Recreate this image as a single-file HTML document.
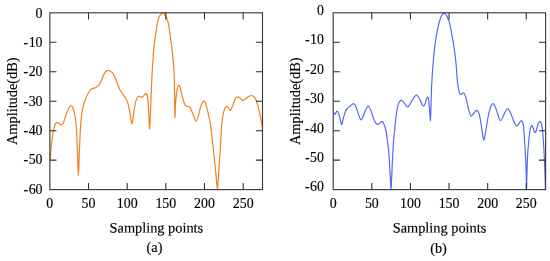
<!DOCTYPE html>
<html><head><meta charset="utf-8"><title>Amplitude plots</title>
<style>
html,body{margin:0;padding:0;background:#fff;}
body{width:550px;height:261px;overflow:hidden;}
svg{display:block;}
text{font-family:"Liberation Serif",serif;font-size:14.2px;fill:#000;stroke:#000;stroke-width:0.15px;}
</style></head>
<body>
<svg width="550" height="261" viewBox="0 0 550 261">
<rect width="550" height="261" fill="#fff"/>
<defs><clipPath id="cl"><rect x="49.85" y="11.80" width="212.65" height="178.30"/></clipPath></defs>
<path d="M50.30,159.40 C50.45,157.33 50.88,150.48 51.20,147.00 C51.52,143.52 51.82,141.28 52.20,138.50 C52.58,135.72 53.05,132.58 53.50,130.30 C53.95,128.02 54.43,126.07 54.90,124.80 C55.37,123.53 55.78,123.02 56.30,122.70 C56.82,122.38 57.38,122.65 58.00,122.90 C58.62,123.15 59.35,123.90 60.00,124.20 C60.65,124.50 61.32,124.97 61.90,124.70 C62.48,124.43 62.82,124.22 63.50,122.60 C64.18,120.98 65.08,117.43 66.00,115.00 C66.92,112.57 68.13,109.57 69.00,108.00 C69.87,106.43 70.53,105.60 71.20,105.60 C71.87,105.60 72.40,106.43 73.00,108.00 C73.60,109.57 74.27,112.17 74.80,115.00 C75.33,117.83 75.77,119.17 76.20,125.00 C76.63,130.83 77.03,141.48 77.40,150.00 C77.77,158.52 78.07,176.10 78.40,176.10 C78.73,176.10 79.02,158.52 79.40,150.00 C79.78,141.48 80.20,131.68 80.70,125.00 C81.20,118.32 81.50,114.50 82.40,109.90 C83.30,105.30 84.65,100.82 86.10,97.40 C87.55,93.98 89.43,91.07 91.10,89.40 C92.77,87.73 94.63,88.35 96.10,87.40 C97.57,86.45 98.65,85.77 99.90,83.70 C101.15,81.63 102.58,77.03 103.60,75.00 C104.62,72.97 105.17,72.25 106.00,71.50 C106.83,70.75 107.55,70.30 108.60,70.50 C109.65,70.70 111.23,71.53 112.30,72.70 C113.37,73.87 113.72,74.63 115.00,77.50 C116.28,80.37 118.33,86.58 120.00,89.90 C121.67,93.22 123.67,95.12 125.00,97.40 C126.33,99.68 127.17,100.90 128.00,103.60 C128.83,106.30 129.33,110.23 130.00,113.60 C130.67,116.97 131.38,124.00 132.00,123.80 C132.62,123.60 133.00,116.38 133.70,112.40 C134.40,108.42 135.37,102.60 136.20,99.90 C137.03,97.20 137.75,96.62 138.70,96.20 C139.65,95.78 140.95,97.62 141.90,97.40 C142.85,97.18 143.68,95.52 144.40,94.90 C145.12,94.28 145.62,92.87 146.20,93.70 C146.78,94.53 147.40,95.13 147.90,99.90 C148.40,104.67 148.92,117.45 149.20,122.30 C149.48,127.15 149.45,129.05 149.60,129.00 C149.75,128.95 149.88,126.83 150.10,122.00 C150.32,117.17 150.62,107.13 150.90,100.00 C151.18,92.87 151.50,85.20 151.80,79.20 C152.10,73.20 152.38,68.83 152.70,64.00 C153.02,59.17 153.32,54.37 153.70,50.20 C154.08,46.03 154.57,42.37 155.00,39.00 C155.43,35.63 155.98,32.30 156.30,30.00 C156.62,27.70 156.58,26.95 156.90,25.20 C157.22,23.45 157.75,21.03 158.20,19.50 C158.65,17.97 159.13,16.92 159.60,16.00 C160.07,15.08 160.49,14.47 161.00,14.00 C161.51,13.53 162.10,13.20 162.65,13.20 C163.20,13.20 163.79,13.53 164.30,14.00 C164.81,14.47 165.22,15.08 165.70,16.00 C166.18,16.92 166.68,17.97 167.20,19.50 C167.72,21.03 168.43,23.45 168.80,25.20 C169.17,26.95 169.08,27.70 169.40,30.00 C169.72,32.30 170.23,35.63 170.70,39.00 C171.17,42.37 171.73,46.03 172.20,50.20 C172.67,54.37 173.15,59.17 173.50,64.00 C173.85,68.83 174.10,73.20 174.30,79.20 C174.50,85.20 174.59,93.63 174.70,100.00 C174.81,106.37 174.82,116.57 174.95,117.40 C175.08,118.23 175.31,108.33 175.50,105.00 C175.69,101.67 175.80,100.15 176.10,97.40 C176.40,94.65 176.90,90.47 177.30,88.50 C177.70,86.53 178.05,85.85 178.50,85.60 C178.95,85.35 179.33,85.03 180.00,87.00 C180.67,88.97 181.67,94.42 182.50,97.40 C183.33,100.38 184.17,103.38 185.00,104.90 C185.83,106.42 186.67,106.08 187.50,106.50 C188.33,106.92 188.97,105.80 190.00,107.40 C191.03,109.00 192.67,113.82 193.70,116.10 C194.73,118.38 195.37,121.30 196.20,121.10 C197.03,120.90 197.87,117.60 198.70,114.90 C199.53,112.20 200.28,107.23 201.20,104.90 C202.12,102.57 203.40,100.88 204.20,100.90 C205.00,100.92 205.42,103.28 206.00,105.00 C206.58,106.72 207.17,109.03 207.70,111.20 C208.23,113.37 208.73,115.77 209.20,118.00 C209.67,120.23 210.10,122.10 210.50,124.60 C210.90,127.10 211.28,130.35 211.60,133.00 C211.92,135.65 212.05,137.25 212.40,140.50 C212.75,143.75 213.27,148.42 213.70,152.50 C214.13,156.58 214.58,160.92 215.00,165.00 C215.42,169.08 215.78,172.90 216.20,177.00 C216.62,181.10 217.13,189.60 217.50,189.60 C217.87,189.60 218.12,181.10 218.40,177.00 C218.68,172.90 218.92,169.08 219.20,165.00 C219.47,160.92 219.77,156.58 220.05,152.50 C220.33,148.42 220.66,144.83 220.90,140.50 C221.14,136.17 221.15,130.75 221.50,126.50 C221.85,122.25 222.43,118.03 223.00,115.00 C223.57,111.97 224.27,109.75 224.90,108.30 C225.53,106.85 226.20,106.38 226.80,106.30 C227.40,106.22 227.92,107.08 228.50,107.80 C229.08,108.52 229.73,110.65 230.30,110.60 C230.87,110.55 231.37,108.68 231.90,107.50 C232.43,106.32 232.98,104.82 233.50,103.50 C234.02,102.18 234.48,100.63 235.00,99.60 C235.52,98.57 236.10,97.75 236.60,97.30 C237.10,96.85 237.48,96.82 238.00,96.90 C238.52,96.98 239.12,97.37 239.70,97.80 C240.28,98.23 240.95,99.08 241.50,99.50 C242.05,99.92 242.42,100.33 243.00,100.30 C243.58,100.27 244.25,99.80 245.00,99.30 C245.75,98.80 246.75,97.85 247.50,97.30 C248.25,96.75 248.90,96.30 249.50,96.00 C250.10,95.70 250.52,95.50 251.10,95.50 C251.68,95.50 252.42,95.67 253.00,96.00 C253.58,96.33 254.12,96.93 254.60,97.50 C255.08,98.07 255.45,98.40 255.90,99.40 C256.35,100.40 256.83,101.92 257.30,103.50 C257.77,105.08 258.30,107.23 258.70,108.90 C259.10,110.57 259.37,111.90 259.70,113.50 C260.03,115.10 260.40,117.00 260.70,118.50 C261.00,120.00 261.18,120.92 261.50,122.50 C261.82,124.08 262.42,127.08 262.60,128.00" fill="none" stroke="#F0821E" stroke-width="1.2" stroke-linejoin="round" clip-path="url(#cl)"/>
<rect x="49.85" y="12.8" width="212.65" height="176.79999999999998" fill="none" stroke="#3c3c3c" stroke-width="1.15"/>
<path d="M88.51,12.8v6.6 M88.51,189.6v-6.6 M127.18,12.8v6.6 M127.18,189.6v-6.6 M165.84,12.8v6.6 M165.84,189.6v-6.6 M204.50,12.8v6.6 M204.50,189.6v-6.6 M243.17,12.8v6.6 M243.17,189.6v-6.6 M49.85,42.27h6.6 M262.5,42.27h-6.6 M49.85,71.73h6.6 M262.5,71.73h-6.6 M49.85,101.20h6.6 M262.5,101.20h-6.6 M49.85,130.67h6.6 M262.5,130.67h-6.6 M49.85,160.13h6.6 M262.5,160.13h-6.6" stroke="#2a2a2a" stroke-width="1.05" fill="none"/>
<text transform="translate(49.85,208) scale(0.98,1)" text-anchor="middle">0</text>
<text transform="translate(88.51,208) scale(0.98,1)" text-anchor="middle">50</text>
<text transform="translate(127.18,208) scale(0.98,1)" text-anchor="middle">100</text>
<text transform="translate(165.84,208) scale(0.98,1)" text-anchor="middle">150</text>
<text transform="translate(204.50,208) scale(0.98,1)" text-anchor="middle">200</text>
<text transform="translate(243.17,208) scale(0.98,1)" text-anchor="middle">250</text>
<text transform="translate(42.55,17.65) scale(0.98,1)" text-anchor="end">0</text>
<text transform="translate(42.55,46.62) scale(0.98,1)" text-anchor="end">-<tspan dx="0.5">10</tspan></text>
<text transform="translate(42.55,76.08) scale(0.98,1)" text-anchor="end">-<tspan dx="0.5">20</tspan></text>
<text transform="translate(42.55,105.55) scale(0.98,1)" text-anchor="end">-<tspan dx="0.5">30</tspan></text>
<text transform="translate(42.55,135.02) scale(0.98,1)" text-anchor="end">-<tspan dx="0.5">40</tspan></text>
<text transform="translate(42.55,164.48) scale(0.98,1)" text-anchor="end">-<tspan dx="0.5">50</tspan></text>
<text transform="translate(42.55,194.05) scale(0.98,1)" text-anchor="end">-<tspan dx="0.5">60</tspan></text>
<text transform="translate(17.2,101.20) rotate(-90)" text-anchor="middle" style="font-size:14.35px">Amplitude(dB)</text>
<text transform="translate(156.35,232.5) rotate(0.15)" text-anchor="middle" style="font-size:14.35px">Sampling points</text>
<text x="154.5" y="252.0" text-anchor="middle" style="font-size:14.35px">(a)</text>
<defs><clipPath id="cr"><rect x="333.20" y="11.80" width="212.40" height="178.30"/></clipPath></defs>
<path d="M333.70,112.40 C333.92,112.73 334.45,114.62 335.00,114.40 C335.55,114.18 336.38,111.23 337.00,111.10 C337.62,110.97 338.12,112.03 338.70,113.60 C339.28,115.17 339.97,118.70 340.50,120.50 C341.03,122.30 341.40,124.90 341.90,124.40 C342.40,123.90 342.78,119.92 343.50,117.50 C344.22,115.08 345.12,111.78 346.20,109.90 C347.28,108.02 348.75,107.23 350.00,106.20 C351.25,105.17 352.67,103.50 353.70,103.70 C354.73,103.90 355.37,105.53 356.20,107.40 C357.03,109.27 357.87,112.82 358.70,114.90 C359.53,116.98 360.37,119.90 361.20,119.90 C362.03,119.90 362.87,116.77 363.70,114.90 C364.53,113.03 365.37,110.15 366.20,108.70 C367.03,107.25 367.88,105.80 368.70,106.20 C369.52,106.60 370.28,109.03 371.10,111.10 C371.92,113.17 372.78,116.57 373.60,118.60 C374.42,120.63 375.27,122.35 376.00,123.30 C376.73,124.25 377.28,124.42 378.00,124.30 C378.72,124.18 379.55,123.08 380.30,122.60 C381.05,122.12 381.83,120.95 382.50,121.40 C383.17,121.85 383.75,123.87 384.30,125.30 C384.85,126.73 385.35,128.05 385.80,130.00 C386.25,131.95 386.63,134.50 387.00,137.00 C387.37,139.50 387.68,142.20 388.00,145.00 C388.32,147.80 388.65,150.80 388.90,153.80 C389.15,156.80 389.32,159.82 389.50,163.00 C389.68,166.18 389.83,169.90 390.00,172.90 C390.17,175.90 390.32,178.18 390.50,181.00 C390.68,183.82 390.88,189.80 391.05,189.80 C391.22,189.80 391.36,183.82 391.50,181.00 C391.64,178.18 391.77,175.90 391.90,172.90 C392.03,169.90 392.15,166.18 392.30,163.00 C392.45,159.82 392.63,156.80 392.80,153.80 C392.97,150.80 393.12,147.80 393.30,145.00 C393.48,142.20 393.67,139.50 393.90,137.00 C394.13,134.50 394.37,133.23 394.70,130.00 C395.03,126.77 395.38,121.58 395.90,117.60 C396.42,113.62 397.18,108.78 397.80,106.10 C398.42,103.42 398.97,102.47 399.60,101.50 C400.23,100.53 400.95,100.25 401.60,100.30 C402.25,100.35 402.85,101.05 403.50,101.80 C404.15,102.55 404.85,103.93 405.50,104.80 C406.15,105.67 406.73,106.97 407.40,107.00 C408.07,107.03 408.73,106.08 409.50,105.00 C410.27,103.92 411.20,101.87 412.00,100.50 C412.80,99.13 413.55,97.68 414.30,96.80 C415.05,95.92 415.77,95.08 416.50,95.20 C417.23,95.32 418.03,96.57 418.70,97.50 C419.37,98.43 419.92,99.63 420.50,100.80 C421.08,101.97 421.67,103.63 422.20,104.50 C422.73,105.37 423.20,106.17 423.70,106.00 C424.20,105.83 424.73,104.67 425.20,103.50 C425.67,102.33 426.08,100.05 426.50,99.00 C426.92,97.95 427.35,97.12 427.70,97.20 C428.05,97.28 428.32,97.70 428.60,99.50 C428.88,101.30 429.17,105.25 429.40,108.00 C429.63,110.75 429.83,113.92 430.00,116.00 C430.17,118.08 430.27,121.00 430.40,120.50 C430.53,120.00 430.65,117.25 430.80,113.00 C430.95,108.75 431.10,100.63 431.30,95.00 C431.50,89.37 431.73,84.03 432.00,79.20 C432.27,74.37 432.45,71.37 432.90,66.00 C433.35,60.63 434.17,51.83 434.70,47.00 C435.23,42.17 435.63,39.85 436.10,37.00 C436.57,34.15 437.10,31.87 437.50,29.90 C437.90,27.93 438.10,26.85 438.50,25.20 C438.90,23.55 439.43,21.48 439.90,20.00 C440.37,18.52 440.85,17.27 441.30,16.30 C441.75,15.33 442.13,14.72 442.60,14.20 C443.07,13.68 443.60,13.20 444.10,13.20 C444.60,13.20 445.13,13.73 445.60,14.20 C446.07,14.67 446.45,15.12 446.90,16.00 C447.35,16.88 447.87,18.37 448.30,19.50 C448.73,20.63 448.90,20.23 449.50,22.80 C450.10,25.37 451.08,30.38 451.90,34.90 C452.72,39.42 453.70,45.00 454.40,49.90 C455.10,54.80 455.58,58.87 456.10,64.30 C456.62,69.73 456.93,77.73 457.50,82.50 C458.07,87.27 458.88,90.95 459.50,92.90 C460.12,94.85 460.50,94.20 461.20,94.20 C461.90,94.20 462.87,92.15 463.70,92.90 C464.53,93.65 465.37,95.87 466.20,98.70 C467.03,101.53 467.87,107.00 468.70,109.90 C469.53,112.80 470.23,115.68 471.20,116.10 C472.17,116.52 473.55,113.35 474.50,112.40 C475.45,111.45 476.08,109.98 476.90,110.40 C477.72,110.82 478.55,111.65 479.40,114.90 C480.25,118.15 481.28,125.73 482.00,129.90 C482.72,134.07 483.12,139.48 483.70,139.90 C484.28,140.32 484.78,136.13 485.50,132.40 C486.22,128.67 487.17,121.65 488.00,117.50 C488.83,113.35 489.67,109.80 490.50,107.50 C491.33,105.20 492.17,103.70 493.00,103.70 C493.83,103.70 494.67,105.62 495.50,107.50 C496.33,109.38 497.13,112.80 498.00,115.00 C498.87,117.20 499.75,120.70 500.70,120.70 C501.65,120.70 502.58,117.00 503.70,115.00 C504.82,113.00 506.28,109.12 507.40,108.70 C508.52,108.28 509.35,110.42 510.40,112.50 C511.45,114.58 512.62,118.92 513.70,121.20 C514.78,123.48 515.95,125.92 516.90,126.20 C517.85,126.48 518.65,123.82 519.40,122.90 C520.15,121.98 520.80,120.60 521.40,120.70 C522.00,120.80 522.58,121.78 523.00,123.50 C523.42,125.22 523.62,127.80 523.90,131.00 C524.18,134.20 524.47,139.20 524.70,142.70 C524.93,146.20 525.12,148.78 525.30,152.00 C525.48,155.22 525.65,158.17 525.80,162.00 C525.95,165.83 526.08,170.37 526.20,175.00 C526.33,179.63 526.43,189.80 526.55,189.80 C526.67,189.80 526.77,179.63 526.90,175.00 C527.02,170.37 527.15,165.83 527.30,162.00 C527.45,158.17 527.58,155.22 527.80,152.00 C528.02,148.78 528.33,145.53 528.60,142.70 C528.87,139.87 529.12,137.32 529.40,135.00 C529.68,132.68 529.95,130.40 530.30,128.80 C530.65,127.20 531.08,125.70 531.50,125.40 C531.92,125.10 532.38,126.10 532.80,127.00 C533.22,127.90 533.60,129.87 534.00,130.80 C534.40,131.73 534.80,132.73 535.20,132.60 C535.60,132.47 535.97,131.23 536.40,130.00 C536.83,128.77 537.37,126.50 537.80,125.20 C538.23,123.90 538.62,122.83 539.00,122.20 C539.38,121.57 539.72,121.18 540.10,121.40 C540.48,121.62 540.92,122.15 541.30,123.50 C541.68,124.85 542.05,126.58 542.40,129.50 C542.75,132.42 543.10,136.75 543.40,141.00 C543.70,145.25 543.95,149.83 544.20,155.00 C544.45,160.17 544.70,166.20 544.90,172.00 C545.10,177.80 545.32,186.83 545.40,189.80" fill="none" stroke="#5468FA" stroke-width="1.2" stroke-linejoin="round" clip-path="url(#cr)"/>
<rect x="333.2" y="12.8" width="212.40000000000003" height="176.79999999999998" fill="none" stroke="#3c3c3c" stroke-width="1.15"/>
<path d="M371.82,12.8v6.6 M371.82,189.6v-6.6 M410.44,12.8v6.6 M410.44,189.6v-6.6 M449.05,12.8v6.6 M449.05,189.6v-6.6 M487.67,12.8v6.6 M487.67,189.6v-6.6 M526.29,12.8v6.6 M526.29,189.6v-6.6 M333.2,42.27h6.6 M545.6,42.27h-6.6 M333.2,71.73h6.6 M545.6,71.73h-6.6 M333.2,101.20h6.6 M545.6,101.20h-6.6 M333.2,130.67h6.6 M545.6,130.67h-6.6 M333.2,160.13h6.6 M545.6,160.13h-6.6" stroke="#2a2a2a" stroke-width="1.05" fill="none"/>
<text transform="translate(333.20,208) scale(0.98,1)" text-anchor="middle">0</text>
<text transform="translate(371.82,208) scale(0.98,1)" text-anchor="middle">50</text>
<text transform="translate(410.44,208) scale(0.98,1)" text-anchor="middle">100</text>
<text transform="translate(449.05,208) scale(0.98,1)" text-anchor="middle">150</text>
<text transform="translate(487.67,208) scale(0.98,1)" text-anchor="middle">200</text>
<text transform="translate(526.29,208) scale(0.98,1)" text-anchor="middle">250</text>
<text transform="translate(323.90,14.95) scale(0.98,1)" text-anchor="end">0</text>
<text transform="translate(323.90,44.42) scale(0.98,1)" text-anchor="end">-<tspan dx="0.5">10</tspan></text>
<text transform="translate(323.90,73.88) scale(0.98,1)" text-anchor="end">-<tspan dx="0.5">20</tspan></text>
<text transform="translate(323.90,103.35) scale(0.98,1)" text-anchor="end">-<tspan dx="0.5">30</tspan></text>
<text transform="translate(323.90,132.82) scale(0.98,1)" text-anchor="end">-<tspan dx="0.5">40</tspan></text>
<text transform="translate(323.90,162.28) scale(0.98,1)" text-anchor="end">-<tspan dx="0.5">50</tspan></text>
<text transform="translate(323.90,191.25) scale(0.98,1)" text-anchor="end">-<tspan dx="0.5">60</tspan></text>
<text transform="translate(299.6,101.20) rotate(-90)" text-anchor="middle" style="font-size:14.35px">Amplitude(dB)</text>
<text transform="translate(439.5,232.5) rotate(0.15)" text-anchor="middle" style="font-size:14.35px">Sampling points</text>
<text x="438.5" y="253.0" text-anchor="middle" style="font-size:14.35px">(b)</text>
</svg>
</body></html>
